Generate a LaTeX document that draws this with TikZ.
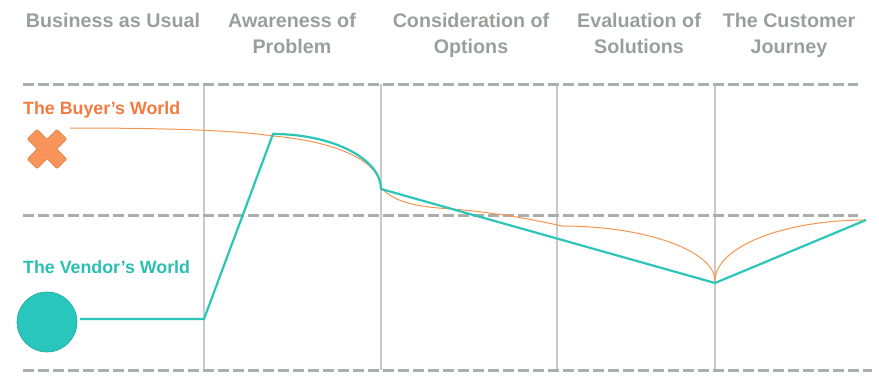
\documentclass[tikz,border=0pt]{standalone}
\usepackage{fontspec}
\setmainfont{Liberation Sans}
\definecolor{hdrgray}{HTML}{9B9F9C}
\definecolor{dashgray}{HTML}{ABAFAB}
\definecolor{vgray}{HTML}{C9C9C9}
\definecolor{buyertext}{HTML}{F37B3F}
\definecolor{buyerline}{HTML}{F7944F}
\definecolor{xfill}{HTML}{F9955A}
\definecolor{xborder}{HTML}{E27F42}
\definecolor{tealline}{HTML}{2CC5BA}
\definecolor{tealtext}{HTML}{2BBFB2}
\definecolor{tealfill}{HTML}{29C6BE}
\definecolor{tealborder}{HTML}{22A99F}
\tikzset{
  header/.style={font=\fontsize{19.7}{26}\selectfont\bfseries, text=hdrgray, align=center, anchor=base, inner sep=0pt},
  worldlabel/.style={font=\fontsize{17.8}{20}\selectfont\bfseries, anchor=base west, inner sep=0pt},
  gridline/.style={dashgray, line width=3pt, dash pattern=on 11pt off 4pt},
  stageline/.style={vgray, line width=1.5pt},
  buyerpath/.style={buyerline, line width=1pt},
  vendorpath/.style={tealline, line width=2.2pt, line join=miter},
}
\begin{document}
\begin{tikzpicture}[x=1pt,y=-1pt]
\useasboundingbox (0,0) rectangle (879,389);
% headers (base anchor = baseline of last line)
\node[header] (h1) at (113,27) {Business as Usual};
\node[header] (h2) at (292,53) {Awareness of\\Problem};
\node[header] (h3) at (471,53) {Consideration of\\Options};
\node[header] (h4) at (639,53) {Evaluation of\\Solutions};
\node[header] (h5) at (789,53) {The Customer\\Journey};
% stage lines
\foreach \n/\x in {a/204,b/381,c/557,d/715}{
  \coordinate (s\n t) at (\x,84);
  \coordinate (s\n b) at (\x,370);
  \draw[stageline] (s\n t) -- (s\n b);
}
% dashed lines
\coordinate (g1l) at (23,84);  \coordinate (g1r) at (858,84);
\coordinate (g2l) at (23,215); \coordinate (g2r) at (858,215);
\coordinate (g3l) at (23,370); \coordinate (g3r) at (872,370);
\draw[gridline] (g1l) -- (g1r);
\draw[gridline] (g2l) -- (g2r);
\draw[gridline] (g3l) -- (g3r);
% labels
\node[worldlabel, text=buyertext] (buyer) at (23,114) {The Buyer’s World};
\node[worldlabel, text=tealtext] (vendor) at (23,273) {The Vendor’s World};
% X mark
\begin{scope}[shift={(47,149)}, rotate=45]
\draw[fill=xfill, draw=xborder, line width=0.6pt, rounded corners=1pt]
  (-6.8,-21) -- (6.8,-21) -- (6.8,-6.8) -- (21,-6.8) -- (21,6.8) -- (6.8,6.8)
  -- (6.8,21) -- (-6.8,21) -- (-6.8,6.8) -- (-21,6.8) -- (-21,-6.8) -- (-6.8,-6.8) -- cycle;
\end{scope}
% circle
\node[circle, fill=tealfill, draw=tealborder, line width=0.6pt, minimum size=60pt, inner sep=0pt] (vc) at (47,322) {};
% buyer path
\coordinate (b0) at (70,128);
\coordinate (b1) at (273,136);
\coordinate (b2) at (381,188);
\coordinate (b3) at (453,209);
\coordinate (b4) at (562,226);
\coordinate (b5) at (715,281);
\coordinate (b6) at (866,220);
\draw[buyerpath] (b0) .. controls (180,128) and (240,131) .. (b1)
  .. controls (320,140) and (379,155) .. (b2)
  .. controls (395,202) and (415,207) .. (b3)
  .. controls (500,213) and (540,221) .. (b4)
  .. controls (646,226) and (715,251) .. (b5)
  .. controls (715,247) and (783,220) .. (b6);
% vendor path
\coordinate (v0) at (80,319);
\coordinate (v1) at (204,319);
\coordinate (v2) at (273,134);
\coordinate (v3) at (381,189);
\coordinate (v4) at (715,283);
\coordinate (v5) at (866,220);
\draw[vendorpath] (v0) -- (v1) -- (v2)
  .. controls (333,134) and (381,159) .. (v3) -- (v4) -- (v5);
\end{tikzpicture}
\end{document}
